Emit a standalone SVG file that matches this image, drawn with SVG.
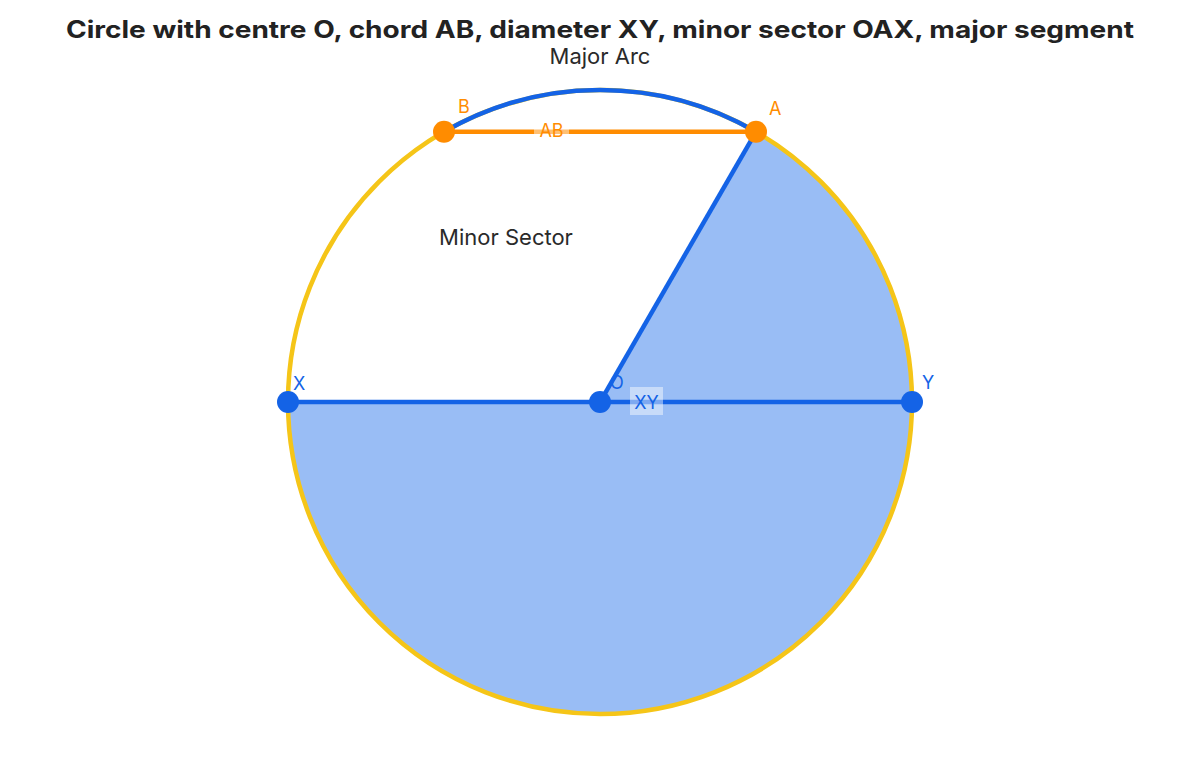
<svg xmlns="http://www.w3.org/2000/svg" width="1200" height="763" viewBox="0 0 1200 763">
<style>
.title{font-family:Inter,"Liberation Sans",sans-serif;font-weight:700;font-size:24px;fill:#222;}
.lbl{font-family:Inter,"Liberation Sans",sans-serif;font-size:22px;fill:#2a2a2a;}
.pt{font-family:Inter,"Liberation Sans",sans-serif;font-size:18px;}
.blue{fill:#1463e6;}
.orange{fill:#ff8c00;}
.bline{stroke:#1463e6;stroke-width:4.5;fill:none;}
.oline{stroke:#ff8c00;stroke-width:4.5;fill:none;}
.box{fill:#ffffff;fill-opacity:0.45;}
</style>
<rect width="1200" height="763" fill="#ffffff"/>
<text class="title" x="600" y="38" text-anchor="middle" textLength="1068" lengthAdjust="spacingAndGlyphs">Circle with centre O, chord AB, diameter XY, minor sector OAX, major segment</text>
<g id="sector">
<path d="M600,402 L756,131.8 A312,312 0 1,1 288,402 Z" fill="#99bdf5"/>
</g>
<g id="circle">
<circle cx="600" cy="402" r="312" fill="none" stroke="#f5c518" stroke-width="4.5"/>
</g>
<g id="connectors">
<path id="major-arc" class="bline" d="M444,131.8 A312,312 0 0,1 756,131.8"/>
<line id="chord-AB" class="oline" x1="444" y1="131.8" x2="756" y2="131.8"/>
<rect class="box" x="534" y="121" width="35" height="18"/>
<text class="pt orange" x="551.5" y="137" text-anchor="middle">AB</text>
<line id="diameter-XY" class="bline" x1="288" y1="402" x2="912" y2="402"/>
<rect class="box" x="630" y="387" width="33" height="28"/>
<text class="pt blue" x="646.5" y="408.5" text-anchor="middle">XY</text>
<text class="pt blue" x="610" y="389">O</text>
<line id="radius-OA" class="bline" x1="600" y1="402" x2="756" y2="131.8"/>
</g>
<text class="lbl" x="600" y="64" text-anchor="middle">Major Arc</text>
<text class="lbl" x="506" y="245" text-anchor="middle">Minor Sector</text>
<g id="node-A">
<circle cx="756" cy="131.8" r="11" class="orange"/>
<text class="pt orange" x="769" y="115">A</text>
</g>
<g id="node-B">
<circle cx="444" cy="131.8" r="11" class="orange"/>
<text class="pt orange" x="458" y="113">B</text>
</g>
<g id="node-O">
<circle cx="600" cy="402" r="11" class="blue"/>
</g>
<g id="node-X">
<circle cx="288" cy="402" r="11" class="blue"/>
<text class="pt blue" x="293" y="390">X</text>
</g>
<g id="node-Y">
<circle cx="912" cy="402" r="11" class="blue"/>
<text class="pt blue" x="922" y="389">Y</text>
</g>
</svg>
